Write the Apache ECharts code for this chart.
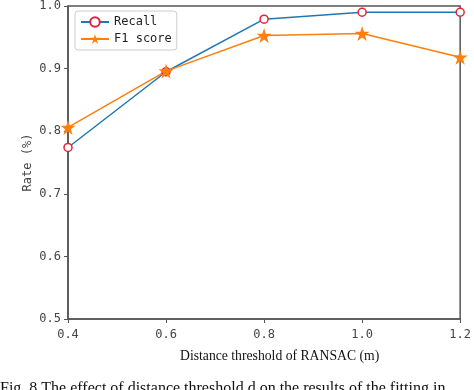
<!DOCTYPE html>
<html><head><meta charset="utf-8">
<script src="https://cdn.jsdelivr.net/npm/echarts@6/dist/echarts.min.js"></script>
<style>html,body{margin:0;padding:0;background:#fff}#c{width:474px;height:390px}</style>
</head><body><div id="c"></div>
<script>
const thresholds = [0.4, 0.6, 0.8, 1.0, 1.2];
const recall = [0.774, 0.895, 0.979, 0.990, 0.990];
const f1score = [0.806, 0.896, 0.953, 0.956, 0.918];
const seriesNames = ['Recall', 'F1 score'];
const xTitle = 'Distance threshold of RANSAC (m)';
const yTitle = 'Rate (%)';
const caption = 'Fig. 8 The effect of distance threshold d on the results of the fitting in';

const star = 'path://M50,0 L61.8,36.2 L100,36.2 L69.1,58.8 L80.9,95.1 L50,72.7 L19.1,95.1 L30.9,58.8 L0,36.2 L38.2,36.2 Z';
const mono = '"DejaVu Sans Mono", monospace';
const chart = echarts.init(document.getElementById('c'));
chart.setOption({
  animation: false,
  grid: {left: 68, right: 8, top: 5, bottom: 71, show: true, borderColor: '#555', borderWidth: 1.5, backgroundColor: 'transparent'},
  legend: {
    data: seriesNames, orient: 'vertical', left: 75, top: 11,
    itemWidth: 28, itemHeight: 12, itemGap: 5,
    padding: [5, 5, 5, 5], borderColor: '#ccc', borderWidth: 1, borderRadius: 3,
    textStyle: {fontFamily: mono, fontSize: 12, color: '#222'}
  },
  xAxis: {
    type: 'value', min: 0.4, max: 1.2, interval: 0.2,
    axisLine: {show: true, lineStyle: {color: '#555', width: 1.5}},
    axisTick: {show: true, length: 4, lineStyle: {color: '#555'}},
    splitLine: {show: false},
    axisLabel: {fontFamily: mono, fontSize: 12, color: '#444', margin: 10, formatter: v => v.toFixed(1)}
  },
  yAxis: {
    type: 'value', min: 0.5, max: 1.0, interval: 0.1,
    name: yTitle, nameLocation: 'middle', nameGap: 34, nameRotate: 90, nameMoveOverlap: false,
    nameTextStyle: {fontFamily: mono, fontSize: 12, color: '#444'},
    axisLine: {show: true, lineStyle: {color: '#555', width: 1.5}},
    axisTick: {show: true, length: 4, lineStyle: {color: '#555'}},
    splitLine: {show: false},
    axisLabel: {fontFamily: mono, fontSize: 12, color: '#444', margin: 7, formatter: v => v.toFixed(1)}
  },
  series: [
    {
      name: seriesNames[0], type: 'line', data: thresholds.map((x, i) => [x, recall[i]]),
      symbol: 'circle', symbolSize: 8, showAllSymbol: true,
      lineStyle: {color: '#1f77b4', width: 1.5},
      itemStyle: {color: '#fff', borderColor: '#e8203a', borderWidth: 1.5}
    },
    {
      name: seriesNames[1], type: 'line', data: thresholds.map((x, i) => [x, f1score[i]]),
      symbol: star, symbolSize: 15, showAllSymbol: true,
      lineStyle: {color: '#ff7f0e', width: 1.5},
      itemStyle: {color: '#ff7f0e'}
    }
  ],
  graphic: [
    {type: 'text', left: 180, top: 349, style: {text: xTitle, font: '13.7px "Liberation Serif", serif', fill: '#111'}},
    {type: 'text', left: 0, top: 381, style: {text: caption, font: '16px "Liberation Serif", serif', fill: '#111'}}
  ]
});
</script></body></html>
